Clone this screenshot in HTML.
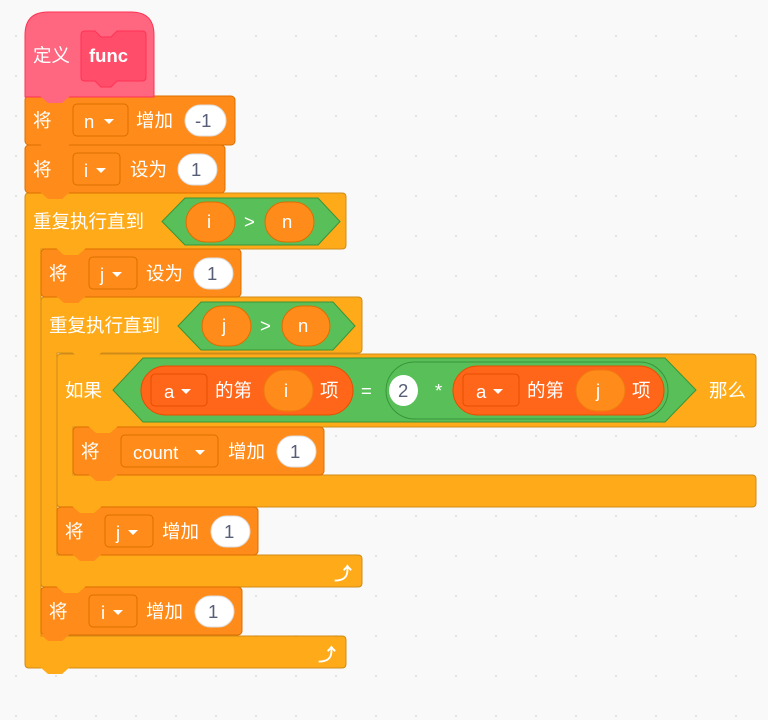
<!DOCTYPE html>
<html><head><meta charset="utf-8"><style>
html,body{margin:0;padding:0;background:#f9f9f9;}
svg{display:block;}
text{font-family:"Liberation Sans","Noto Sans CJK SC",sans-serif;font-size:18.5px;fill:#fff;}
.d{fill:#575e75;}
</style></head><body>
<svg width="768" height="720" viewBox="0 0 768 720">
<defs>
<pattern id="dots" width="40" height="40" patternUnits="userSpaceOnUse" x="14" y="-6">
<circle cx="2" cy="2" r="1" fill="#dcdcdc"/></pattern>
</defs>
<rect width="768" height="720" fill="#f9f9f9"/>
<rect width="768" height="720" fill="url(#dots)"/>

<path d="M29,193 H342 q4,0 4,4 V245 q0,4 -4,4 H41 V636 H342 q4,0 4,4 V664 q0,4 -4,4 H29 q-4,0 -4,-4 V197 q0,-4 4,-4Z" fill="#ffab19" stroke="#cf8b17"/>
<path d="M45,297 H358 q4,0 4,4 V349 q0,4 -4,4 H57 V555 H358 q4,0 4,4 V583 q0,4 -4,4 H45 q-4,0 -4,-4 V301 q0,-4 4,-4Z" fill="#ffab19" stroke="#cf8b17"/>
<path d="M61,354 H752 q4,0 4,4 V423 q0,4 -4,4 H73 V475 H752 q4,0 4,4 V503 q0,4 -4,4 H61 q-4,0 -4,-4 V358 q0,-4 4,-4Z" fill="#ffab19" stroke="#cf8b17"/>

<g fill="#ff8c1a" stroke="#db6e00">
<rect x="25" y="96" width="210" height="49" rx="4"/>
<rect x="25" y="145" width="200" height="48" rx="4"/>
<rect x="41" y="249" width="200" height="48" rx="4"/>
<rect x="73" y="427" width="251" height="48" rx="4"/>
<rect x="57" y="507" width="201" height="48" rx="4"/>
<rect x="41" y="587" width="201" height="48" rx="4"/>
</g>

<path d="M25,35 q0,-23 23,-23 H131 q23,0 23,23 V97 H25Z" fill="#ff6680" stroke="#ff3355"/>
<path d="M85,31 H95 l6,6 h10 l6,-6 H142 q4,0 4,4 V77 q0,4 -4,4 H117 l-6,6 h-10 l-6,-6 H85 q-4,0 -4,-4 V35 q0,-4 4,-4Z" fill="#ff4d6a" stroke="#ff3355"/>
<text x="33" y="62">定义</text>
<text x="89" y="62" style="font-weight:bold">func</text>

<path d="M40,96 l8,7 h14 l8,-7Z" fill="#ff6680"/>
<g fill="#ff8c1a">
<path d="M40,144 l8,7 h14 l8,-7Z"/>
<path d="M40,192 l8,7 h14 l8,-7Z"/>
<path d="M56,296 l8,7 h14 l8,-7Z"/>
<path d="M88,474 l8,7 h14 l8,-7Z"/>
<path d="M72,554 l8,7 h14 l8,-7Z"/>
<path d="M40,634 l8,7 h14 l8,-7Z"/>
</g>
<g fill="#ffab19">
<path d="M56,248 l8,7 h14 l8,-7Z"/>
<path d="M72,352 l8,7 h14 l8,-7Z"/>
<path d="M88,426 l8,7 h14 l8,-7Z"/>
<path d="M72,506 l8,7 h14 l8,-7Z"/>
<path d="M56,586 l8,7 h14 l8,-7Z"/>
<path d="M40,667 l8,7 h14 l8,-7Z"/>
</g>

<g fill="#ff8c1a" stroke="#db6e00">
<rect x="73" y="104" width="55" height="32" rx="4"/>
<rect x="73" y="153" width="47" height="32" rx="4"/>
<rect x="89" y="257" width="48" height="32" rx="4"/>
<rect x="121" y="435" width="97" height="32" rx="4"/>
<rect x="105" y="515" width="48" height="32" rx="4"/>
<rect x="89" y="595" width="48" height="32" rx="4"/>
</g>
<g fill="#fff" stroke="#ddd">
<rect x="185" y="105" width="41" height="31" rx="15.5"/>
<rect x="178" y="154" width="39" height="31" rx="15.5"/>
<rect x="194" y="258" width="39" height="31" rx="15.5"/>
<rect x="277" y="436" width="39" height="31" rx="15.5"/>
<rect x="211" y="516" width="39" height="31" rx="15.5"/>
<rect x="195" y="596" width="39" height="31" rx="15.5"/>
</g>
<g fill="#fff">
<path d="M104,119 h10 l-5,5Z"/>
<path d="M96,168 h10 l-5,5Z"/>
<path d="M112,272 h10 l-5,5Z"/>
<path d="M195,450 h10 l-5,5Z"/>
<path d="M128,530 h10 l-5,5Z"/>
<path d="M113,610 h10 l-5,5Z"/>
</g>

<text x="33" y="127">将</text><text x="84" y="128">n</text><text x="136" y="127">增加</text><text x="195" y="127" class="d">-1</text>
<text x="33" y="176">将</text><text x="84" y="177">i</text><text x="130" y="176">设为</text><text x="191" y="176" class="d">1</text>
<text x="49" y="280">将</text><text x="100" y="281">j</text><text x="146" y="280">设为</text><text x="207" y="280" class="d">1</text>
<text x="81" y="458">将</text><text x="133" y="459">count</text><text x="228" y="458">增加</text><text x="290" y="458" class="d">1</text>
<text x="65" y="538">将</text><text x="116" y="539">j</text><text x="162" y="538">增加</text><text x="224" y="538" class="d">1</text>
<text x="49" y="618">将</text><text x="101" y="619">i</text><text x="146" y="618">增加</text><text x="208" y="618" class="d">1</text>

<text x="33" y="228">重复执行直到</text>
<path d="M162,221.5 L185,198 H318 L340,221.5 L318,245 H185Z" fill="#59c059" stroke="#389438"/>
<rect x="186" y="202" width="49" height="40" rx="20" fill="#ff8c1a" stroke="#db6e00"/>
<rect x="265" y="202" width="49" height="40" rx="20" fill="#ff8c1a" stroke="#db6e00"/>
<text x="207" y="228">i</text><text x="244" y="228">&gt;</text><text x="282" y="228">n</text>

<text x="49" y="332">重复执行直到</text>
<path d="M178,326 L201,302 H333 L355,326 L333,350 H201Z" fill="#59c059" stroke="#389438"/>
<rect x="202" y="306" width="49" height="40" rx="20" fill="#ff8c1a" stroke="#db6e00"/>
<rect x="282" y="306" width="48" height="40" rx="20" fill="#ff8c1a" stroke="#db6e00"/>
<text x="222" y="332">j</text><text x="260" y="332">&gt;</text><text x="298" y="332">n</text>

<text x="65" y="397">如果</text>
<path d="M113,390 L143,358 H665 L696,390 L665,422 H143Z" fill="#59c059" stroke="#389438"/>
<rect x="141" y="366" width="212" height="49" rx="24.5" fill="#ff661a" stroke="#e64d00"/>
<rect x="151" y="374" width="56" height="32" rx="4" fill="#ff661a" stroke="#e64d00"/>
<rect x="264" y="370" width="49" height="41" rx="20.5" fill="#ff8c1a" stroke="#f07a10"/>
<text x="164" y="398">a</text><text x="215" y="397">的第</text><text x="284" y="397">i</text><text x="320" y="397">项</text>
<text x="361" y="397">=</text>
<rect x="386" y="362" width="282" height="57" rx="28.5" fill="#59c059" stroke="#389438"/>
<rect x="389" y="375" width="29" height="31" rx="15.5" fill="#fff"/>
<text x="398" y="397" class="d">2</text>
<text x="435" y="397">*</text>
<rect x="453" y="366" width="211" height="49" rx="24.5" fill="#ff661a" stroke="#e64d00"/>
<rect x="463" y="374" width="56" height="32" rx="4" fill="#ff661a" stroke="#e64d00"/>
<rect x="576" y="370" width="49" height="41" rx="20.5" fill="#ff8c1a" stroke="#f07a10"/>
<text x="476" y="398">a</text><text x="527" y="397">的第</text><text x="596" y="397">j</text><text x="632" y="397">项</text>
<text x="709" y="397">那么</text>
<g fill="#fff">
<path d="M181,389 h10 l-5,5Z"/>
<path d="M493,389 h10 l-5,5Z"/>
</g>

<text x="334" y="580" style="font-size:18px;font-weight:bold">⤴</text>
<text x="318" y="661" style="font-size:18px;font-weight:bold">⤴</text>
</svg>
</body></html>
